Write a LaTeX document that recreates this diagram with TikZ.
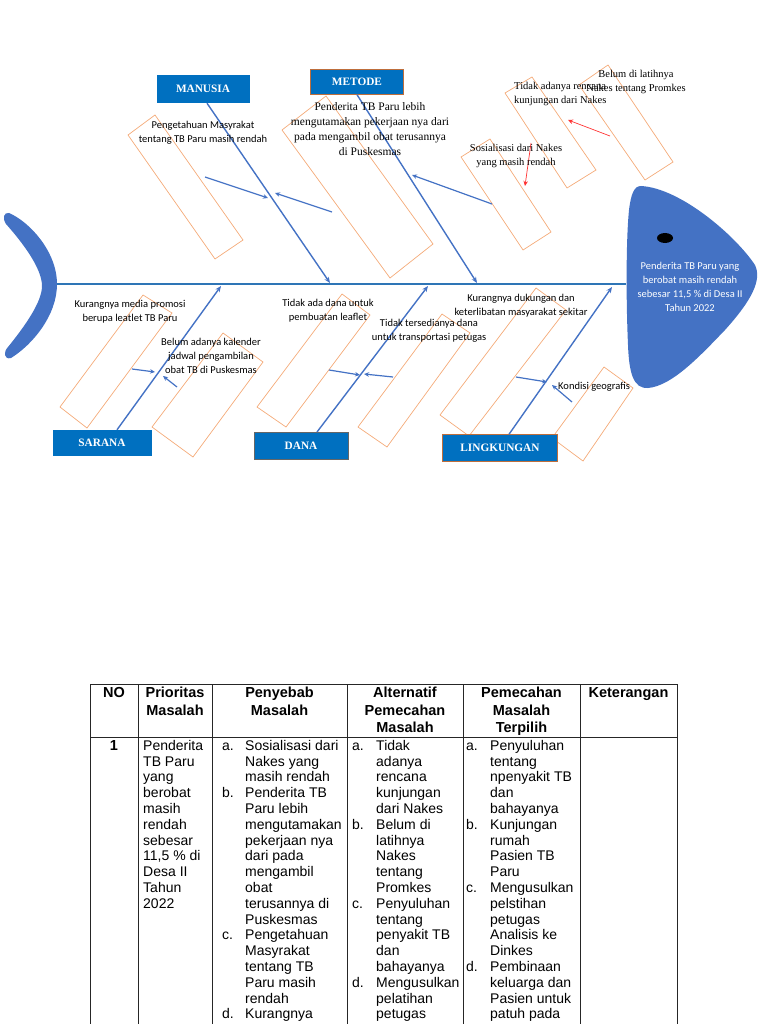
\documentclass[tikz,border=0pt]{standalone}
\usepackage{fontspec}
\setmainfont{Liberation Serif}
\newfontfamily\calfont{Carlito}
\newfontfamily\arialfont{Liberation Sans}
\usetikzlibrary{arrows.meta}

\definecolor{fishblue}{RGB}{68,114,196}
\definecolor{spineblue}{RGB}{46,117,182}
\definecolor{boxblue}{RGB}{0,112,192}
\definecolor{causeorange}{RGB}{244,170,120}
\definecolor{boxedge}{RGB}{190,110,60}

\tikzset{
  catbox/.style={fill=boxblue, text=white, inner sep=0pt, font=\bfseries\fontsize{11.3}{13}\selectfont},
  bone/.style={fishblue, line width=1.4pt, -{Stealth[length=6pt,width=5pt]}},
  subarrow/.style={fishblue, line width=1.2pt, -{Stealth[length=5pt,width=4.5pt]}},
  redarrow/.style={red!80!white, line width=0.7pt, -{Stealth[length=5pt,width=4.5pt]}},
  causebox/.style={draw=causeorange, line width=0.7pt},
  causetext/.style={font=\calfont\fontsize{10.5}{14}\selectfont, align=center, inner sep=0pt},
  seriftext/.style={font=\fontsize{10.5}{13.5}\selectfont, align=center, inner sep=0pt},
  tabline/.style={line width=1pt, black!85},
  tabtext/.style={font=\arialfont\fontsize{14}{15.8}\selectfont, inner sep=0pt, anchor=north west},
  tabhead/.style={font=\arialfont\bfseries\fontsize{14.5}{17.5}\selectfont, inner sep=0pt, anchor=north, align=center},
}

\begin{document}
\begin{tikzpicture}[x=1pt,y=-1pt]
\useasboundingbox (0,0) rectangle (768,1024);

% tail and head
\fill[fishblue] (9,213) .. controls (30,222) and (57,252) .. (57,284) .. controls (57,316) and (32,345) .. (11,358)
  .. controls (4,360) and (3,352) .. (8,347) .. controls (25,326) and (42,302) .. (42,286)
  .. controls (42,268) and (22,242) .. (6,224) .. controls (2,218) and (4,212) .. (9,213) -- cycle;
\fill[fishblue] (641,186) .. controls (680,188) and (735,235) .. (755,265) .. controls (762,280) and (752,300) .. (725,330)
  .. controls (700,356) and (672,386) .. (648,388) .. controls (633,389) and (629,372) .. (628,345)
  .. controls (626,300) and (626,240) .. (629,210) .. controls (631,194) and (634,186) .. (641,186) -- cycle;
\fill[black] (665,238) ellipse (8 and 5);

\coordinate (tailjoin) at (57,284);
\coordinate (headjoin) at (626,284);
\draw[spineblue, line width=2.6pt] (tailjoin) -- (headjoin);

% cause boxes
\draw[causebox] (128,135) -- (155,115) -- (243,240) -- (215,259) -- cycle;
\draw[causebox] (282,130) -- (326,96) -- (433,244) -- (390,278) -- cycle;
\draw[causebox] (461,157) -- (490,139) -- (551,232) -- (523,250) -- cycle;
\draw[causebox] (505,93) -- (532,77) -- (596,170) -- (567,188) -- cycle;
\draw[causebox] (579,85) -- (608,65) -- (673,162) -- (645,180) -- cycle;
\draw[causebox] (60,407) -- (143,295) -- (172,313) -- (87,428) -- cycle;
\draw[causebox] (152,427) -- (223,333) -- (263,362) -- (193,457) -- cycle;
\draw[causebox] (257,407) -- (342,294) -- (370,315) -- (286,427) -- cycle;
\draw[causebox] (358,427) -- (442,314) -- (470,333) -- (387,447) -- cycle;
\draw[causebox] (440,415) -- (536,288) -- (566,310) -- (469,436) -- cycle;
\draw[causebox] (552,438) -- (604,367) -- (633,388) -- (583,461) -- cycle;

% categories
\node[catbox, minimum width=93, minimum height=28] (manusia) at (203,89) {MANUSIA};
\node[catbox, draw=boxedge, minimum width=93, minimum height=25] (metode) at (357,82) {METODE};
\node[catbox, minimum width=99, minimum height=26] (sarana) at (102,443) {SARANA};
\node[catbox, draw=black!60, line width=1pt, minimum width=94, minimum height=27] (dana) at (301,446) {DANA};
\node[catbox, draw=boxedge, minimum width=115, minimum height=27] (lingkungan) at (500,448) {LINGKUNGAN};

\coordinate (jmanusia) at (330,283);
\coordinate (jmetode) at (477,283);
\coordinate (jsarana) at (221,286);
\coordinate (jdana) at (428,286);
\coordinate (jling) at (612,287);

\draw[bone] ([xshift=4pt]manusia.south) -- (jmanusia);
\draw[bone] (metode.south) -- (jmetode);
\draw[bone] ([xshift=15pt]sarana.north) -- (jsarana);
\draw[bone] ([xshift=16pt]dana.north) -- (jdana);
\draw[bone] ([xshift=9pt]lingkungan.north) -- (jling);

% small arrows
\coordinate (ma1) at (205,177); \coordinate (mb1) at (268,198);
\coordinate (ma2) at (332,212); \coordinate (mb2) at (275,193);
\coordinate (ta1) at (492,204); \coordinate (tb1) at (412,175);
\coordinate (sa1) at (132,369); \coordinate (sb1) at (155,372);
\coordinate (sa2) at (177,387); \coordinate (sb2) at (163,376);
\coordinate (da1) at (329,370); \coordinate (db1) at (360,375);
\coordinate (da2) at (393,377); \coordinate (db2) at (364,374);
\coordinate (la1) at (516,377); \coordinate (lb1) at (547,382);
\coordinate (la2) at (572,402); \coordinate (lb2) at (552,385);
\draw[subarrow] (ma1) -- (mb1);
\draw[subarrow] (ma2) -- (mb2);
\draw[subarrow] (ta1) -- (tb1);
\draw[subarrow] (sa1) -- (sb1);
\draw[subarrow] (sa2) -- (sb2);
\draw[subarrow] (da1) -- (db1);
\draw[subarrow] (da2) -- (db2);
\draw[subarrow] (la1) -- (lb1);
\draw[subarrow] (la2) -- (lb2);

\coordinate (ra1) at (610,136); \coordinate (rb1) at (568,120);
\coordinate (ra2) at (531,143); \coordinate (rb2) at (525,186);
\draw[redarrow] (ra1) -- (rb1);
\draw[redarrow] (ra2) -- (rb2);

% cause texts
\node[causetext] (pengetahuan) at (203,133) {Pengetahuan Masyrakat\\tentang TB Paru masih rendah};
\node[seriftext, font=\fontsize{11.5}{14.8}\selectfont] (kerja) at (370,129) {Penderita TB Paru lebih\\mengutamakan pekerjaan nya dari\\pada mengambil obat terusannya\\di Puskesmas};
\node[seriftext] (sosialisasi) at (516,156) {Sosialisasi dari Nakes\\yang masih rendah};
\node[seriftext, align=left, anchor=west] (rencana) at (514,94) {Tidak adanya rencana\\kunjungan dari Nakes};
\node[seriftext] (latih) at (636,82) {Belum di latihnya\\Nakes tentang Promkes};
\node[causetext] (media) at (130,312) {Kurangnya media promosi\\berupa leatlet TB Paru};
\node[causetext] (kalender) at (211,356) {Belum adanya kalender\\jadwal pengambilan\\obat TB di Puskesmas};
\node[causetext] (leaflet) at (328,311) {Tidak ada dana untuk\\pembuatan leaflet};
\node[causetext] (transport) at (429,331) {Tidak tersedianya dana\\untuk transportasi petugas};
\node[causetext] (dukungan) at (521,306) {Kurangnya dukungan dan\\keterlibatan masyarakat sekitar};
\node[causetext, anchor=west] (geografis) at (558,387) {Kondisi geografis};
\node[causetext, text=white, font=\calfont\fontsize{10.5}{14.2}\selectfont] (masalah) at (690,287) {Penderita TB Paru yang\\berobat masih rendah\\sebesar 11,5 \% di Desa II\\Tahun 2022};

% table
\draw[tabline] (90,1030) -- (90,684) -- (677,684) -- (677,1030);
\draw[tabline] (90,737) -- (677,737);
\foreach \cx in {138,212,347,463,580}
  \draw[tabline] (\cx,684) -- (\cx,1030);

\node[tabhead] (hno) at (114,687) {NO};
\node[tabhead] (hprio) at (175,687) {Prioritas\\Masalah};
\node[tabhead] (hsebab) at (279.5,687) {Penyebab\\Masalah};
\node[tabhead] (halt) at (405,687) {Alternatif\\Pemecahan\\Masalah};
\node[tabhead] (hpilih) at (521.5,687) {Pemecahan\\Masalah\\Terpilih};
\node[tabhead] (hket) at (628.5,687) {Keterangan};

\node[tabhead, anchor=north] (no1) at (114,740) {1};
\node[tabtext] (prio1) at (143,739) {\begin{tabular}{@{}l@{}}Penderita\\TB Paru\\yang\\berobat\\masih\\rendah\\sebesar\\11,5 \% di\\Desa II\\Tahun\\2022\end{tabular}};
\node[tabtext] (sebab1) at (222,739) {\begin{tabular}{@{}p{23pt}@{}l@{}}a. & Sosialisasi dari\\ & Nakes yang\\ & masih rendah\\b. & Penderita TB\\ & Paru lebih\\ & mengutamakan\\ & pekerjaan nya\\ & dari pada\\ & mengambil\\ & obat\\ & terusannya di\\ & Puskesmas\\c. & Pengetahuan\\ & Masyrakat\\ & tentang TB\\ & Paru masih\\ & rendah\\d. & Kurangnya\end{tabular}};
\node[tabtext] (alt1) at (352,739) {\begin{tabular}{@{}p{24pt}@{}l@{}}a. & Tidak\\ & adanya\\ & rencana\\ & kunjungan\\ & dari Nakes\\b. & Belum di\\ & latihnya\\ & Nakes\\ & tentang\\ & Promkes\\c. & Penyuluhan\\ & tentang\\ & penyakit TB\\ & dan\\ & bahayanya\\d. & Mengusulkan\\ & pelatihan\\ & petugas\end{tabular}};
\node[tabtext] (pilih1) at (466,739) {\begin{tabular}{@{}p{24pt}@{}l@{}}a. & Penyuluhan\\ & tentang\\ & npenyakit TB\\ & dan\\ & bahayanya\\b. & Kunjungan\\ & rumah\\ & Pasien TB\\ & Paru\\c. & Mengusulkan\\ & pelstihan\\ & petugas\\ & Analisis ke\\ & Dinkes\\d. & Pembinaan\\ & keluarga dan\\ & Pasien untuk\\ & patuh pada\end{tabular}};
\end{tikzpicture}
\end{document}
